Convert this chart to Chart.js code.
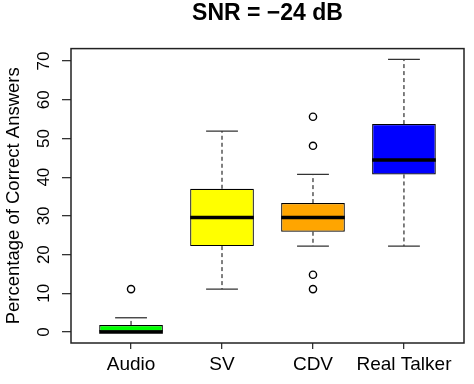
<!DOCTYPE html>
<html>
<head>
<meta charset="utf-8">
<script src="https://cdn.jsdelivr.net/npm/chart.js@4"></script>
<style>
  html, body { margin: 0; padding: 0; background: #fff; }
  #wrap { width: 474px; height: 384px; }
</style>
</head>
<body>
<div id="wrap"><canvas id="chart1"></canvas></div>
<script>
// boxplot stats (percent correct)
const categories = ['Audio', 'SV', 'CDV', 'Real Talker']
const q1 = [0, 22.2, 25.9, 40.7]
const median = [0, 29.6, 29.6, 44.4]
const q3 = [1.85, 37.0, 33.3, 53.7]
const whiskerLow = [0, 11.1, 22.2, 22.2]
const whiskerHigh = [3.7, 51.9, 40.7, 70.4]
const outlierGroup = [1, 3, 3, 3, 3]
const outlierValue = [11.1, 55.6, 48.1, 14.8, 11.1]
const boxColors = ['#00ff00', '#ffff00', '#ffa500', '#0000ff']
const yTicks = [0, 10, 20, 30, 40, 50, 60, 70]

const FONT = 'Liberation Sans, Arial, Helvetica, sans-serif'

// whiskers, caps, medians, frame and rotated y labels
const boxExtras = {
  id: 'boxExtras',
  afterDatasetsDraw(chart) {
    const ctx = chart.ctx
    const xs = chart.scales.x
    const ys = chart.scales.y
    const bars = chart.getDatasetMeta(0).data
    ctx.save()
    for (let i = 0; i < categories.length; i++) {
      const cx = xs.getPixelForValue(i + 1)
      const half = bars[i].width / 2
      ctx.strokeStyle = '#000'
      ctx.lineWidth = 1
      // dashed whiskers
      ctx.setLineDash([4, 3])
      ctx.beginPath()
      if (whiskerHigh[i] > q3[i]) {
        ctx.moveTo(cx, ys.getPixelForValue(q3[i]))
        ctx.lineTo(cx, ys.getPixelForValue(whiskerHigh[i]))
      }
      if (whiskerLow[i] < q1[i]) {
        ctx.moveTo(cx, ys.getPixelForValue(q1[i]))
        ctx.lineTo(cx, ys.getPixelForValue(whiskerLow[i]))
      }
      ctx.stroke()
      ctx.setLineDash([])
      // caps
      ctx.strokeStyle = '#333'
      ctx.lineWidth = 1.3
      ctx.beginPath()
      ctx.moveTo(cx - half / 2, ys.getPixelForValue(whiskerHigh[i]))
      ctx.lineTo(cx + half / 2, ys.getPixelForValue(whiskerHigh[i]))
      if (whiskerLow[i] < q1[i]) {
        ctx.moveTo(cx - half / 2, ys.getPixelForValue(whiskerLow[i]))
        ctx.lineTo(cx + half / 2, ys.getPixelForValue(whiskerLow[i]))
      }
      ctx.stroke()
      // median
      ctx.strokeStyle = '#000'
      ctx.lineWidth = 3.5
      ctx.beginPath()
      ctx.moveTo(cx - half, ys.getPixelForValue(median[i]))
      ctx.lineTo(cx + half, ys.getPixelForValue(median[i]))
      ctx.stroke()
    }
    // plot frame
    const a = chart.chartArea
    ctx.strokeStyle = '#222'
    ctx.lineWidth = 1.5
    ctx.strokeRect(a.left, a.top, a.right - a.left, a.bottom - a.top)
    // y tick labels, reading bottom to top like R
    ctx.fillStyle = '#000'
    ctx.font = '17px ' + FONT
    ctx.textAlign = 'center'
    ctx.textBaseline = 'middle'
    yTicks.forEach(v => {
      ctx.save()
      ctx.translate(44, ys.getPixelForValue(v))
      ctx.rotate(-Math.PI / 2)
      ctx.fillText(String(v), 0, 0)
      ctx.restore()
    })
    ctx.restore()
  }
}

const boxData = categories.map((c, i) => ({ x: i + 1, y: [q1[i], q3[i]] }))
const outlierData = outlierGroup.map((g, i) => ({ x: g, y: outlierValue[i] }))

var ctx1 = document.getElementById('chart1').getContext('2d')
var chart1 = new Chart(ctx1, {
  type: 'bar',
  data: {
    datasets: [{
      label: 'box',
      data: boxData,
      backgroundColor: boxColors,
      borderColor: '#000',
      borderWidth: 1.2,
      borderSkipped: false,
      barPercentage: 0.7,
      categoryPercentage: 1
    },
    {
      type: 'scatter',
      label: 'outliers',
      data: outlierData,
      pointRadius: 3.6,
      pointBorderWidth: 1.4,
      pointBackgroundColor: '#fff',
      pointBorderColor: '#000'
    }]
  },
  plugins: [boxExtras],
  options: {
    responsive: true,
    maintainAspectRatio: false,
    animation: false,
    layout: { padding: { left: 0, right: 10, top: 0, bottom: 0 } },
    scales: {
      x: {
        type: 'linear',
        offset: false,
        min: 0.34,
        max: 4.66,
        afterBuildTicks: s => { s.ticks = categories.map((c, i) => ({ value: i + 1 })) },
        afterFit: s => { s.height = 41 },
        grid: { offset: false, drawOnChartArea: false, tickLength: 6, color: '#333', lineWidth: 1.3 },
        border: { display: false },
        ticks: {
          color: '#000',
          padding: 4,
          maxRotation: 0,
          autoSkip: false,
          font: { family: FONT, size: 19 },
          callback: v => categories[v - 1]
        }
      },
      y: {
        min: -2.815,
        max: 73.19,
        afterBuildTicks: s => { s.ticks = yTicks.map(v => ({ value: v })) },
        afterFit: s => { s.width = 71 },
        grid: { drawOnChartArea: false, tickLength: 9, color: '#333', lineWidth: 1.3 },
        border: { display: false },
        ticks: { display: false },
        title: {
          display: true,
          text: 'Percentage of Correct Answers',
          color: '#000',
          padding: { top: 3, bottom: 0 },
          font: { family: FONT, size: 18.5 }
        }
      }
    },
    plugins: {
      legend: { display: false },
      tooltip: { enabled: false },
      title: {
        display: true,
        fullSize: false,
        text: 'SNR = \u221224 dB',
        color: '#000',
        padding: { top: 0, bottom: 21 },
        font: { family: FONT, size: 23, weight: 'bold', lineHeight: 1.2 }
      }
    }
  }
})
</script>
</body>
</html>
